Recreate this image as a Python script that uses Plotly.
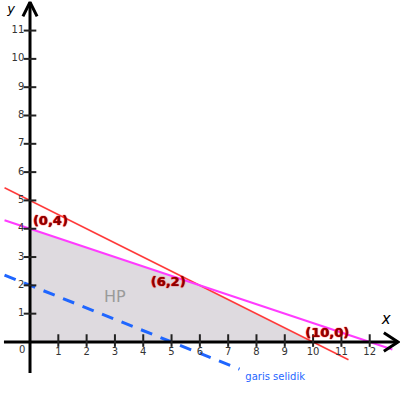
import plotly.graph_objects as go

# constraint lines and the search line (garis selidik)
line_x = [-0.9, 11.25]
red_y = [(10 - x) / 2 for x in line_x]          # x + 2y = 10
mag_x = [-0.9, 12.8]
mag_y = [(12 - x) / 3 for x in mag_x]           # x + 3y = 12
blue_x = [-0.9, 7.4]
blue_y = [(10 - 2 * x) / 5 for x in blue_x]     # 2x + 5y = 10

# feasible region (HP)
hp_x = [0, 0, 6, 10, 0]
hp_y = [0, 4, 2, 0, 0]

# corner points
pt_labels = ["(0,4)", "(6,2)", "(10,0)"]
pt_x = [0.72, 4.88, 10.5]
pt_y = [4.24, 2.08, 0.28]

x_ticks = list(range(1, 13))
y_ticks = list(range(1, 12))

fig = go.Figure()

fig.add_trace(go.Scatter(x=hp_x, y=hp_y, fill="toself", fillcolor="#dedadf",
                         line=dict(width=0), mode="lines", hoverinfo="skip"))
fig.add_trace(go.Scatter(x=line_x, y=red_y, mode="lines",
                         line=dict(color="#ff3b3b", width=1.6)))
fig.add_trace(go.Scatter(x=mag_x, y=mag_y, mode="lines",
                         line=dict(color="#ff3cff", width=2)))
fig.add_trace(go.Scatter(x=blue_x, y=blue_y, mode="lines",
                         line=dict(color="#1f66ff", width=3, dash="12px,9px")))

# axes with arrows
fig.add_trace(go.Scatter(x=[-0.92, 13.0], y=[0, 0], mode="lines",
                         line=dict(color="black", width=3)))
fig.add_trace(go.Scatter(x=[0, 0], y=[-1.1, 12.0], mode="lines",
                         line=dict(color="black", width=3)))
fig.add_trace(go.Scatter(x=[12.5, 13.0, 12.5], y=[0.33, 0, -0.33], mode="lines",
                         line=dict(color="black", width=3)))
fig.add_trace(go.Scatter(x=[-0.25, 0, 0.25], y=[11.5, 12.0, 11.5], mode="lines",
                         line=dict(color="black", width=3)))

# tick marks
fig.add_trace(go.Scatter(x=x_ticks, y=[0.05] * len(x_ticks), mode="markers",
                         marker=dict(symbol="line-ns", size=9,
                                     line=dict(color="#222", width=2))))
fig.add_trace(go.Scatter(x=[0] * len(y_ticks), y=y_ticks, mode="markers",
                         marker=dict(symbol="line-ew", size=9,
                                     line=dict(color="#222", width=2))))

tick_font = dict(family="DejaVu Sans", size=10, color="#333")
fig.add_trace(go.Scatter(x=x_ticks, y=[-0.36] * len(x_ticks), mode="text",
                         text=[str(v) for v in x_ticks], textfont=tick_font))
fig.add_trace(go.Scatter(x=[-0.2] * len(y_ticks), y=y_ticks, mode="text",
                         text=[str(v) for v in y_ticks], textposition="middle left",
                         textfont=tick_font))
fig.add_trace(go.Scatter(x=[-0.28], y=[-0.3], mode="text", text=["0"],
                         textfont=tick_font))

# labels
fig.add_trace(go.Scatter(x=pt_x, y=pt_y, mode="text", text=pt_labels,
                         textfont=dict(family="DejaVu Sans", size=13, color="#8a0000",
                                       weight="bold",
                                       shadow="0px 0px 1px #ff1010, 0px 0px 1px #ff1010")))
fig.add_trace(go.Scatter(x=[3.0], y=[1.55], mode="text", text=["HP"],
                         textfont=dict(family="DejaVu Sans", size=16, color="#9a9a9a")))
fig.add_trace(go.Scatter(x=[8.66], y=[-1.24], mode="text", text=["garis selidik"],
                         textfont=dict(family="DejaVu Sans", size=10, color="#1f66ff")))
fig.add_trace(go.Scatter(x=[12.58], y=[0.78], mode="text", text=["x"],
                         textfont=dict(family="DejaVu Sans", size=15, color="black",
                                       style="italic")))
fig.add_trace(go.Scatter(x=[-0.67], y=[11.73], mode="text", text=["y"],
                         textfont=dict(family="DejaVu Sans", size=13, color="black",
                                       style="italic")))

fig.update_layout(width=400, height=400, margin=dict(l=0, r=0, t=0, b=0),
                  paper_bgcolor="white", plot_bgcolor="white", showlegend=False,
                  xaxis=dict(range=[-1.06, 13.07], visible=False),
                  yaxis=dict(range=[-2.05, 12.08], visible=False))

# drop the default page margin so the figure sits at the window corner
fig.write_html("out.html", config={"displayModeBar": False},
               post_script="document.body.style.margin='0';")
